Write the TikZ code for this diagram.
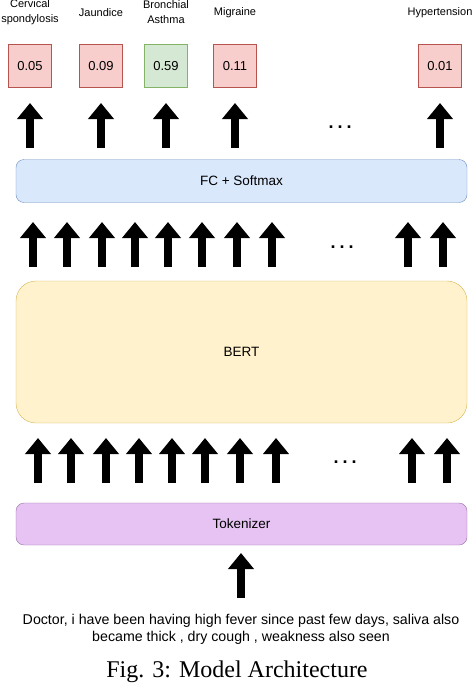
\documentclass[tikz,border=0pt]{standalone}
\usepackage{fontspec}
\setmainfont{Liberation Sans}
\newfontfamily\capfont{Liberation Serif}
\usetikzlibrary{arrows.meta}

\definecolor{fcfill}{HTML}{DAE8FC}
\definecolor{fcdraw}{HTML}{6C8EBF}
\definecolor{bertfill}{HTML}{FFF2CC}
\definecolor{bertdraw}{HTML}{D6B656}
\definecolor{tokfill}{HTML}{E6C3F2}
\definecolor{tokdraw}{HTML}{9673A6}
\definecolor{redfill}{HTML}{F8CECC}
\definecolor{reddraw}{HTML}{B85450}
\definecolor{greenfill}{HTML}{D5E8D4}
\definecolor{greendraw}{HTML}{82B366}

\def\arrlen{45}

\begin{document}
\begin{tikzpicture}[x=1pt,y=-1pt]
    \tikzstyle{blockarrow} = [line width=8pt,-{Triangle[length=16pt,width=25pt]}]
    \tikzstyle{prob} = [rectangle,minimum size=43pt,inner sep=0pt,font=\fontsize{13}{13}\selectfont]
    \tikzstyle{probred} = [prob,fill=redfill,draw=reddraw]
    \tikzstyle{probgreen} = [prob,fill=greenfill,draw=greendraw]
    \tikzstyle{annot} = [align=center,inner sep=0pt,font=\fontsize{11}{15}\selectfont]
    \tikzstyle{layer} = [rectangle,rounded corners=8pt,minimum width=451pt,inner sep=0pt,font=\fontsize{13.5}{13.5}\selectfont]
    \tikzstyle{dots} = [anchor=base,inner sep=0pt,font=\bfseries\fontsize{18}{18}\selectfont]

    \useasboundingbox (0,0) rectangle (474,686);

    %%% DRAW THE LAYERS
    \node[layer,minimum height=43pt,fill=fcfill,draw=fcdraw] (FC) at (241.5,181) {FC + Softmax};
    \node[layer,minimum height=142pt,rounded corners=20pt,fill=bertfill,draw=bertdraw] (BERT) at (241.5,352) {BERT};
    \node[layer,minimum height=42pt,fill=tokfill,draw=tokdraw] (TOK) at (241.5,524) {Tokenizer};

    %%% DRAW THE PREDICTIONS
    \node[probred]   (P-1) at (30,66)  {0.05};
    \node[probred]   (P-2) at (101,66) {0.09};
    \node[probgreen] (P-3) at (166,66) {0.59};
    \node[probred]   (P-4) at (235,66) {0.11};
    \node[probred]   (P-5) at (440,66) {0.01};

    \node[annot] (L-1) at (30,12)  {Cervical\\spondylosis};
    \node[annot] (L-2) at (101,13) {Jaundice};
    \node[annot] (L-3) at (166,12) {Bronchial\\Asthma};
    \node[annot] (L-4) at (235,13) {Migraine};
    \node[annot] (L-5) at (440,13) {Hypertension};

    %%% DRAW THE ARROWS
    \foreach \name / \x in {1/30,2/101,3/166,4/235,5/440} {
        \coordinate (T-\name-s) at (\x,148);
        \coordinate (T-\name-e) at (\x,148-\arrlen);
        \draw[blockarrow] (T-\name-s) -- (T-\name-e);
    }
    \foreach \name / \x in {1/33,2/67,3/102,4/135,5/168,6/202,7/237,8/272,9/408,10/443} {
        \coordinate (M-\name-s) at (\x,267);
        \coordinate (M-\name-e) at (\x,267-\arrlen);
        \draw[blockarrow] (M-\name-s) -- (M-\name-e);
    }
    \foreach \name / \x in {1/38,2/71,3/106,4/139,5/172,6/205,7/240,8/276,9/412,10/447} {
        \coordinate (B-\name-s) at (\x,483);
        \coordinate (B-\name-e) at (\x,483-\arrlen);
        \draw[blockarrow] (B-\name-s) -- (B-\name-e);
    }
    \coordinate (IN-s) at (241,598);
    \coordinate (IN-e) at (241,598-\arrlen);
    \draw[blockarrow] (IN-s) -- (IN-e);

    \node[dots] (D-1) at (340,128) {.\hspace{4pt}.\hspace{4pt}.};
    \node[dots] (D-2) at (342,248) {.\hspace{4pt}.\hspace{4pt}.};
    \node[dots] (D-3) at (345,463) {.\hspace{4pt}.\hspace{4pt}.};

    %%% ANOTATE
    \node[align=center,inner sep=0pt,font=\fontsize{14.2}{17}\selectfont] (IN) at (241,629)
        {Doctor, i have been having high fever since past few days, saliva also\\became thick , dry cough , weakness also seen};
    \node[inner sep=0pt,font=\capfont\fontsize{24}{24}\selectfont] (CAP) at (237,672) {Fig. 3: Model Architecture};

\end{tikzpicture}
\end{document}
